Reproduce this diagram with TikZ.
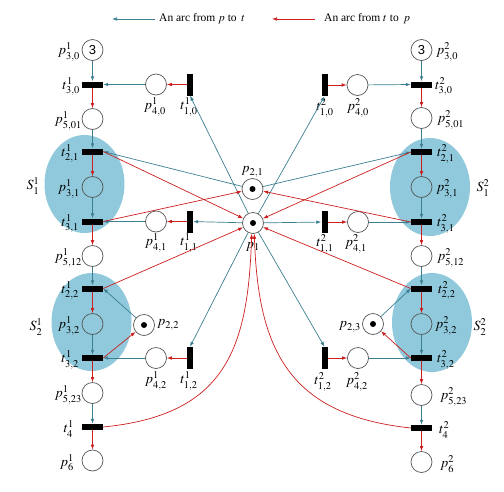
\documentclass[tikz,border=0pt]{standalone}
\usepackage{mathptmx}
\usepackage{fontspec}
\setmainfont{Liberation Serif}
\newfontfamily\tokfont{Liberation Sans}
\usetikzlibrary{arrows.meta}
\definecolor{arcteal}{HTML}{3B7F90}
\definecolor{arcred}{HTML}{CC1F1F}
\definecolor{sfill}{HTML}{8FC9DB}
\definecolor{pborder}{HTML}{555555}
\begin{document}
\begin{tikzpicture}[x=1pt,y=-1pt,
  place/.style={circle,draw=pborder,line width=0.7pt,minimum size=21pt,inner sep=0pt,font=\tokfont\fontsize{13}{14}\selectfont},
  htrans/.style={rectangle,fill=black,minimum width=21pt,minimum height=6pt,inner sep=0pt},
  vtrans/.style={rectangle,fill=black,minimum width=6pt,minimum height=22pt,inner sep=0pt},
  ptarc/.style={draw=arcteal,line width=0.7pt,-{Latex[length=5pt,width=3.6pt]}},
  tparc/.style={draw=arcred,line width=0.7pt,-{Latex[length=5pt,width=3.6pt]}},
  lab/.style={font=\fontsize{14}{15}\selectfont,inner sep=0pt},
  leg/.style={font=\fontsize{11.5}{13}\selectfont,inner sep=0pt,anchor=west},
  tok/.style={circle,fill=black,minimum size=6pt,inner sep=0pt},
  region/.style={fill=sfill}]
\useasboundingbox (0,0) rectangle (504,491);
% regions
\path[region] (84.5,184) ellipse [x radius=40pt, y radius=49pt];
\path[region] (91.5,322) ellipse [x radius=40pt, y radius=49pt];
\path[region] (430,187) ellipse [x radius=40pt, y radius=49pt];
\path[region] (432,322.5) ellipse [x radius=40pt, y radius=49.5pt];
% legend
\coordinate (la1) at (155,19); \coordinate (la2) at (112,19);
\coordinate (lb1) at (315,19); \coordinate (lb2) at (272,19);
\draw[ptarc] (la1) -- (la2);
\draw[tparc] (lb1) -- (lb2);
\node[leg] (legA) at (159,19) {An arc from $p$ to\, $t$};
\node[leg] (legB) at (324,19) {An arc from $t$ to\, $p$};
% left column
\node[place] (Lp30) at (92.5,50) {3};
\node[htrans] (Lt30) at (92.5,84.5) {};
\node[place] (Lp501) at (92.5,119) {};
\node[htrans] (Lt21) at (92.5,151.5) {};
\node[place] (Lp31) at (92.5,187) {};
\node[htrans] (Lt31) at (92.5,221.5) {};
\node[place] (Lp512) at (92.5,256) {};
\node[htrans] (Lt22) at (92.5,288.5) {};
\node[place] (Lp32) at (92.5,324) {};
\node[htrans] (Lt32) at (92.5,358) {};
\node[place] (Lp523) at (92.5,393) {};
\node[htrans] (Lt4) at (92.5,427) {};
\node[place] (Lp6) at (92.5,460.5) {};
\node[place] (Lp40) at (156,84.5) {};
\node[vtrans] (Lt10) at (190,84.5) {};
\node[place] (Lp41) at (156,221.5) {};
\node[vtrans] (Lt11) at (190,221.5) {};
\node[place] (Lp42) at (156,358) {};
\node[vtrans] (Lt12) at (190,358) {};
\node[place] (p22) at (144,325) {};
\node[tok] (p22tok) at (p22) {};
% right column
\node[place] (Rp30) at (421.5,50) {3};
\node[htrans] (Rt30) at (421.5,84.5) {};
\node[place] (Rp501) at (421.5,118) {};
\node[htrans] (Rt21) at (421.5,152) {};
\node[place] (Rp31) at (421.5,187) {};
\node[htrans] (Rt31) at (421.5,222) {};
\node[place] (Rp512) at (421.5,256) {};
\node[htrans] (Rt22) at (421.5,288.5) {};
\node[place] (Rp32) at (421.5,324) {};
\node[htrans] (Rt32) at (421.5,358) {};
\node[place] (Rp523) at (421.5,395) {};
\node[htrans] (Rt4) at (421.5,428) {};
\node[place] (Rp6) at (421.5,462) {};
\node[vtrans] (Rt10) at (324.5,85) {};
\node[place] (Rp40) at (357.5,85) {};
\node[vtrans] (Rt11) at (324.5,222) {};
\node[place] (Rp41) at (358,222) {};
\node[vtrans] (Rt12) at (324.5,358) {};
\node[place] (Rp42) at (358,358) {};
\node[place] (p23) at (373,324) {};
\node[tok] (p23tok) at (p23) {};
% centre
\node[place] (p21) at (252.5,189) {};
\node[tok] (p21tok) at (p21) {};
\node[place] (p1) at (253,223) {};
\node[tok] (p1tok) at (p1) {};
% labels left
\node[lab,anchor=east] (lLp30) at (80,52) {$p^1_{3,0}$};
\node[lab,anchor=east] (lLt30) at (80,86.5) {$t^1_{3,0}$};
\node[lab,anchor=east] (lLp501) at (82,121) {$p^1_{5,01}$};
\node[lab,anchor=east] (lLt21) at (79,153.5) {$t^1_{2,1}$};
\node[lab,anchor=east] (lLp31) at (80,189) {$p^1_{3,1}$};
\node[lab,anchor=east] (lLt31) at (79,223.5) {$t^1_{3,1}$};
\node[lab,anchor=east] (lLp512) at (82,258) {$p^1_{5,12}$};
\node[lab,anchor=east] (lLt22) at (79,290.5) {$t^1_{2,2}$};
\node[lab,anchor=east] (lLp32) at (80,326) {$p^1_{3,2}$};
\node[lab,anchor=east] (lLt32) at (79,360) {$t^1_{3,2}$};
\node[lab,anchor=east] (lLp523) at (82,395) {$p^1_{5,23}$};
\node[lab,anchor=east] (lLt4) at (74,429) {$t^1_{4}$};
\node[lab,anchor=east] (lLp6) at (74,462.5) {$p^1_{6}$};
\node[lab] (lS11) at (33,186) {$S^1_1$};
\node[lab] (lS21) at (36,327) {$S^1_2$};
\node[lab] (lLp40) at (155,107) {$p^1_{4,0}$};
\node[lab] (lLt10) at (189,107) {$t^1_{1,0}$};
\node[lab] (lLp41) at (156,243) {$p^1_{4,1}$};
\node[lab] (lLt11) at (189,243) {$t^1_{1,1}$};
\node[lab] (lLp42) at (156,381) {$p^1_{4,2}$};
\node[lab] (lLt12) at (189,381) {$t^1_{1,2}$};
\node[lab,anchor=west] (lp22) at (157,325) {$p_{2,2}$};
% labels right
\node[lab,anchor=west] (lRp30) at (436,52) {$p^2_{3,0}$};
\node[lab,anchor=west] (lRt30) at (435,86.5) {$t^2_{3,0}$};
\node[lab,anchor=west] (lRp501) at (437,120) {$p^2_{5,01}$};
\node[lab,anchor=west] (lRt21) at (437,154) {$t^2_{2,1}$};
\node[lab,anchor=west] (lRp31) at (436,189) {$p^2_{3,1}$};
\node[lab,anchor=west] (lRt31) at (437,224) {$t^2_{3,1}$};
\node[lab,anchor=west] (lRp512) at (437,258) {$p^2_{5,12}$};
\node[lab,anchor=west] (lRt22) at (438,290.5) {$t^2_{2,2}$};
\node[lab,anchor=west] (lRp32) at (435,326) {$p^2_{3,2}$};
\node[lab,anchor=west] (lRt32) at (437,360) {$t^2_{3,2}$};
\node[lab,anchor=west] (lRp523) at (440,397) {$p^2_{5,23}$};
\node[lab,anchor=west] (lRt4) at (439,430) {$t^2_{4}$};
\node[lab,anchor=west] (lRp6) at (440,464) {$p^2_{6}$};
\node[lab] (lS12) at (483,188) {$S^2_1$};
\node[lab] (lS22) at (480,327) {$S^2_2$};
\node[lab] (lRt10) at (325,108) {$t^2_{1,0}$};
\node[lab] (lRp40) at (358,108) {$p^2_{4,0}$};
\node[lab] (lRt11) at (325,244) {$t^2_{1,1}$};
\node[lab] (lRp41) at (356,244) {$p^2_{4,1}$};
\node[lab] (lRt12) at (323,382) {$t^2_{1,2}$};
\node[lab] (lRp42) at (357,382) {$p^2_{4,2}$};
\node[lab,anchor=east] (lp23) at (361,327) {$p_{2,3}$};
% centre labels
\node[lab] (lp21) at (252.5,172) {$p_{2,1}$};
\node[lab] (lp1) at (253,247) {$p_1$};
% left column arcs
\draw[ptarc] (Lp30) -- (Lt30);
\draw[tparc] (Lt30) -- (Lp501);
\draw[ptarc] (Lp501) -- (Lt21);
\draw[tparc] (Lt21) -- (Lp31);
\draw[ptarc] (Lp31) -- (Lt31);
\draw[tparc] (Lt31) -- (Lp512);
\draw[ptarc] (Lp512) -- (Lt22);
\draw[tparc] (Lt22) -- (Lp32);
\draw[ptarc] (Lp32) -- (Lt32);
\draw[tparc] (Lt32) -- (Lp523);
\draw[ptarc] (Lp523) -- (Lt4);
\draw[tparc] (Lt4) -- (Lp6);
\draw[tparc] (Lt10) -- (Lp40);
\draw[ptarc] (Lp40) -- (Lt30.east);
\draw[tparc] (Lt11) -- (Lp41);
\draw[ptarc] (Lp41) -- (Lt31.east);
\draw[tparc] (Lt12) -- (Lp42);
\draw[ptarc] (Lp42) -- (Lt32.east);
\draw[ptarc] (p1) -- (Lt10.south);
\draw[ptarc] (p21) -- (Lt21.east);
\draw[tparc] (Lt21.east) -- (p1);
\draw[tparc] (Lt31.east) -- (p21);
\draw[ptarc] (p1) -- (Lt11);
\draw[tparc] (Lt22.east) -- (p1);
\draw[ptarc] (p22) -- (Lt22.east);
\draw[tparc] (Lt32.east) -- (p22);
\draw[ptarc] (p1) -- (Lt12.north);
\draw[tparc] (Lt4.east) .. controls (225,415) and (248,350) .. (p1.-97);
% right column arcs
\draw[ptarc] (Rp30) -- (Rt30);
\draw[tparc] (Rt30) -- (Rp501);
\draw[ptarc] (Rp501) -- (Rt21);
\draw[tparc] (Rt21) -- (Rp31);
\draw[ptarc] (Rp31) -- (Rt31);
\draw[tparc] (Rt31) -- (Rp512);
\draw[ptarc] (Rp512) -- (Rt22);
\draw[tparc] (Rt22) -- (Rp32);
\draw[ptarc] (Rp32) -- (Rt32);
\draw[tparc] (Rt32) -- (Rp523);
\draw[ptarc] (Rp523) -- (Rt4);
\draw[tparc] (Rt4) -- (Rp6);
\draw[tparc] (Rt10) -- (Rp40);
\draw[ptarc] (Rp40) -- (Rt30.west);
\draw[tparc] (Rt11) -- (Rp41);
\draw[ptarc] (Rp41) -- (Rt31.west);
\draw[tparc] (Rt12) -- (Rp42);
\draw[ptarc] (Rp42) -- (Rt32.west);
\draw[ptarc] (p1) -- (Rt10.south);
\draw[ptarc] (p21) -- (Rt21.west);
\draw[tparc] (Rt21.west) -- (p1);
\draw[tparc] (Rt31.west) -- (p21);
\draw[ptarc] (p1) -- (Rt11);
\draw[tparc] (Rt22.west) -- (p1);
\draw[ptarc] (p23) -- (Rt22.west);
\draw[tparc] (Rt32.west) -- (p23);
\draw[ptarc] (p1) -- (Rt12.north);
\draw[tparc] (Rt4.west) .. controls (289,415) and (258,350) .. (p1.-83);
\end{tikzpicture}
\end{document}
